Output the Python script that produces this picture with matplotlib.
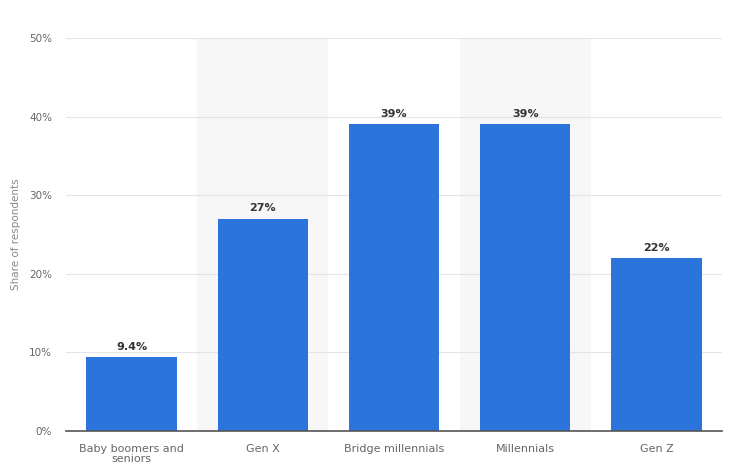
import matplotlib.pyplot as plt
from matplotlib.ticker import FuncFormatter

# data
categories = ["Baby boomers and\nseniors", "Gen X", "Bridge millennials", "Millennials", "Gen Z"]
values = [9.4, 27, 39, 39, 22]
labels = ["9.4%", "27%", "39%", "39%", "22%"]
yticks = [0, 10, 20, 30, 40, 50]

bar_color = "#2a74db"
text_color = "#666666"

fig = plt.figure(figsize=(7.3, 4.68), dpi=100)
ax = fig.add_axes([66 / 730, 37 / 468, 656 / 730, 393 / 468])

x = range(len(categories))

# shaded alternating bands
for i in x:
    if i % 2 == 1:
        ax.axvspan(i - 0.5, i + 0.5, color="#f7f7f7", zorder=0, lw=0)

ax.bar(x, values, width=0.69, color=bar_color, zorder=3)

for i, v in enumerate(values):
    ax.text(i, v + 0.7, labels[i], ha="center", va="bottom",
            fontsize=8, fontweight="bold", color="#333333", zorder=4)

ax.set_xlim(-0.5, len(categories) - 0.5)
ax.set_ylim(0, 50)
ax.set_yticks(yticks)
ax.yaxis.set_major_formatter(FuncFormatter(lambda v, p: f"{v:.0f}%"))
ax.grid(axis="y", color="#e4e4e4", lw=0.8, zorder=1)
ax.set_axisbelow(True)

ax.set_xticks(list(x))
ax.set_xticklabels(categories, fontsize=8, color=text_color, linespacing=1.1)
ax.tick_params(axis="x", length=0, pad=9)
ax.tick_params(axis="y", length=0, pad=10, labelsize=7.5, labelcolor=text_color)

for s in ["top", "right", "left"]:
    ax.spines[s].set_visible(False)
ax.spines["bottom"].set_color("#555555")
ax.spines["bottom"].set_linewidth(1.2)
ax.spines["bottom"].set_zorder(5)

ax.set_ylabel("Share of respondents", fontsize=7.5, color="#888888", labelpad=6)

plt.savefig("out.png", dpi=100)
